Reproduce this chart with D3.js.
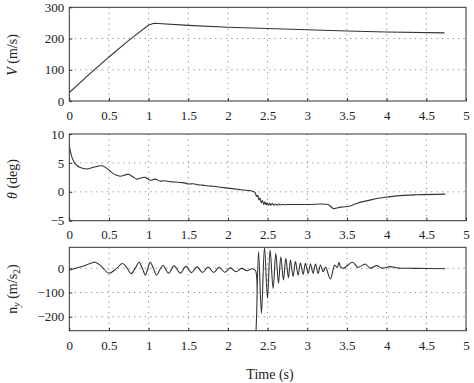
<!DOCTYPE html>
<html><head><meta charset="utf-8">
<script src="https://cdn.jsdelivr.net/npm/d3@7"></script>
</head>
<body style="margin:0;background:#fff"><svg id="c" width="474" height="383"></svg>
<script>
// ---- data ----
const xTicks = [0,0.5,1,1.5,2,2.5,3,3.5,4,4.5,5];
const vTicks = [0,100,200,300];
const thTicks = [-5,0,5,10];
const nyTicks = [-200,-100,0];

const vTime = [0,0.25,0.5,0.75,1.0,1.07,1.5,2.0,2.5,3.0,3.5,4.0,4.73];
const vVal  = [27,85,141,194,243,249,242,236,232,228,224,221,218];

const thTime = [0,0.033,0.076,0.138,0.222,0.306,0.41,0.47,0.558,0.642,0.70,0.747,0.80,0.852,0.90,0.957,1.02,1.08,1.146,1.20,1.27,1.33,1.40,1.45,1.5,1.56,1.62,1.68,1.75,1.82,1.9,2.0,2.08,2.15,2.2,2.28,2.34,2.36,2.375,2.39,2.405,2.42,2.435,2.45,2.465,2.48,2.495,2.51,2.525,2.54,2.56,2.58,2.60,2.62,2.64,2.66,2.68,2.70,2.74,3.0,3.26,3.33,3.42,3.48,3.55,3.63,3.8,3.96,4.13,4.38,4.74];
const thVal  = [8.0,6.0,4.8,4.2,3.95,4.24,4.5,4.1,3.1,2.7,2.9,3.05,2.6,2.2,2.4,2.5,2.0,2.2,1.85,1.9,1.75,1.7,1.6,1.55,1.35,1.4,1.2,1.15,1.0,0.95,0.8,0.64,0.5,0.38,0.3,0.2,-0.1,-0.8,-0.6,-1.4,-1.1,-1.9,-1.5,-2.2,-1.75,-2.25,-1.9,-2.3,-2.0,-2.3,-2.05,-2.3,-2.1,-2.3,-2.12,-2.28,-2.15,-2.25,-2.2,-2.2,-2.2,-2.9,-2.65,-2.6,-2.4,-1.98,-1.4,-1.0,-0.7,-0.52,-0.4];

const nyTime = [0,0.1,0.2,0.3,0.33,0.4,0.5,0.58,0.67,0.72,0.78,0.83,0.88,0.92,0.96,0.99,1.02,1.06,1.1,1.18,1.25,1.32,1.4,1.47,1.54,1.61,1.68,1.75,1.82,1.89,1.96,2.03,2.1,2.17,2.24,2.3,2.345,2.355,2.385,2.422,2.46,2.498,2.531,2.569,2.603,2.636,2.666,2.699,2.729,2.762,2.787,2.821,2.85,2.884,2.913,2.947,2.976,3.01,3.04,3.073,3.103,3.136,3.166,3.2,3.23,3.29,3.346,3.375,3.40,3.415,3.455,3.57,3.64,3.73,3.79,3.875,3.94,4.04,4.15,4.34,4.74];
const nyVal  = [-8,2,12,24,25,10,-20,-5,20,5,-22,0,25,0,-28,0,25,0,-28,12,-20,10,-20,8,-18,6,-17,5,-17,4,-16,2,-14,0,-10,-2,-8,-258,69,-186,87,-124,76,-83,62,-62,48,-48,41,-39,34,-34,28,-28,23,-25,21,-21,18,-21,18,-21,14,-14,5,-44,14,3,25,8,0,25,4,18,1,11,1,7,1,0,-2];

// ---- layout ----
const FONT = "Liberation Serif, Times New Roman, serif";
const svg = d3.select("#c").attr("font-family",FONT);
const x = d3.scaleLinear().domain([0,5]).range([69.3,466]);
const panels = [
  {top:7.3, bot:101, dom:[0,300], ticks:vTicks, t:vTime, v:vVal, lab:120},
  {top:134, bot:220.7, dom:[-5,10], ticks:thTicks, t:thTime, v:thVal, lab:239.5},
  {top:247.3, bot:330.7, dom:[-258,87], ticks:nyTicks, t:nyTime, v:nyVal, lab:350.5}
];
panels.forEach((p,i)=>{
  const y = d3.scaleLinear().domain(p.dom).range([p.bot,p.top]);
  const g = svg.append("g");
  g.selectAll(".vg").data(xTicks.filter(d=>d>0&&d<5)).join("line")
    .attr("x1",d=>x(d)).attr("x2",d=>x(d)).attr("y1",p.top).attr("y2",p.bot)
    .attr("stroke","#888").attr("stroke-width",1).attr("stroke-dasharray","1.2,4.2");
  g.selectAll(".hg").data(p.ticks.filter(d=>y(d)>p.top+1&&y(d)<p.bot-1)).join("line")
    .attr("x1",x(0)).attr("x2",x(5)).attr("y1",d=>y(d)).attr("y2",d=>y(d))
    .attr("stroke","#888").attr("stroke-width",1).attr("stroke-dasharray","1.2,4.2");
  const ax = g.append("g").attr("transform",`translate(0,${p.bot})`)
    .call(d3.axisBottom(x).tickValues(xTicks).tickFormat(d3.format("~g")).tickSizeInner(-3).tickSizeOuter(0).tickPadding(6));
  ax.attr("font-family",FONT).attr("font-size",13);
  ax.select(".domain").remove();
  ax.selectAll("text").attr("font-family",FONT).attr("font-size",13).attr("dy",null).attr("y",p.lab-p.bot).attr("fill","#222");
  ax.selectAll("line").attr("stroke","#333");
  const ay = g.append("g").attr("transform",`translate(${x(0)},0)`)
    .call(d3.axisLeft(y).tickValues(p.ticks).tickFormat(d3.format("~g")).tickSizeInner(-3).tickSizeOuter(0).tickPadding(5));
  ay.attr("font-family",FONT).attr("font-size",13);
  ay.select(".domain").remove();
  ay.selectAll("text").attr("font-family",FONT).attr("font-size",13).attr("fill","#222");
  ay.selectAll("line").attr("stroke","#333");
  g.append("rect").attr("x",x(0)).attr("y",p.top).attr("width",x(5)-x(0)).attr("height",p.bot-p.top)
    .attr("fill","none").attr("stroke","#333").attr("stroke-width",1);
  svg.append("clipPath").attr("id","cp"+i).append("rect")
    .attr("x",x(0)).attr("y",p.top).attr("width",x(5)-x(0)).attr("height",p.bot-p.top);
  const pts = p.t.map((t,k)=>[t,p.v[k]]);
  const line = d3.line().x(d=>x(d[0])).y(d=>y(d[1]))
    .curve(i===0?d3.curveLinear:d3.curveCatmullRom.alpha(0.5));
  g.append("path").attr("d",line(pts)).attr("clip-path",`url(#cp${i})`)
    .attr("fill","none").attr("stroke","#333").attr("stroke-width",1.1);
});

function ylab(cy, build){
  const t = svg.append("text").attr("transform",`translate(17,${cy}) rotate(-90)`)
    .attr("text-anchor","middle").attr("font-size",14).attr("font-family",FONT).attr("fill","#222");
  build(t);
}
ylab(55, t=>{ t.append("tspan").attr("font-style","italic").text("V"); t.append("tspan").text(" (m/s)"); });
ylab(179, t=>{ t.append("tspan").attr("font-style","italic").text("θ"); t.append("tspan").text(" (deg)"); });
ylab(289, t=>{
  t.append("tspan").text("n");
  t.append("tspan").attr("font-style","italic").attr("font-size",10).attr("dy",3).text("y");
  t.append("tspan").attr("dy",-3).text(" (m/s");
  t.append("tspan").attr("font-size",10).attr("dy",3).text("2");
  t.append("tspan").attr("dy",-3).text(")");
});
svg.append("text").attr("x",270).attr("y",379).attr("text-anchor","middle").attr("font-size",14)
  .attr("font-family",FONT).attr("fill","#222").text("Time (s)");
</script></body></html>
